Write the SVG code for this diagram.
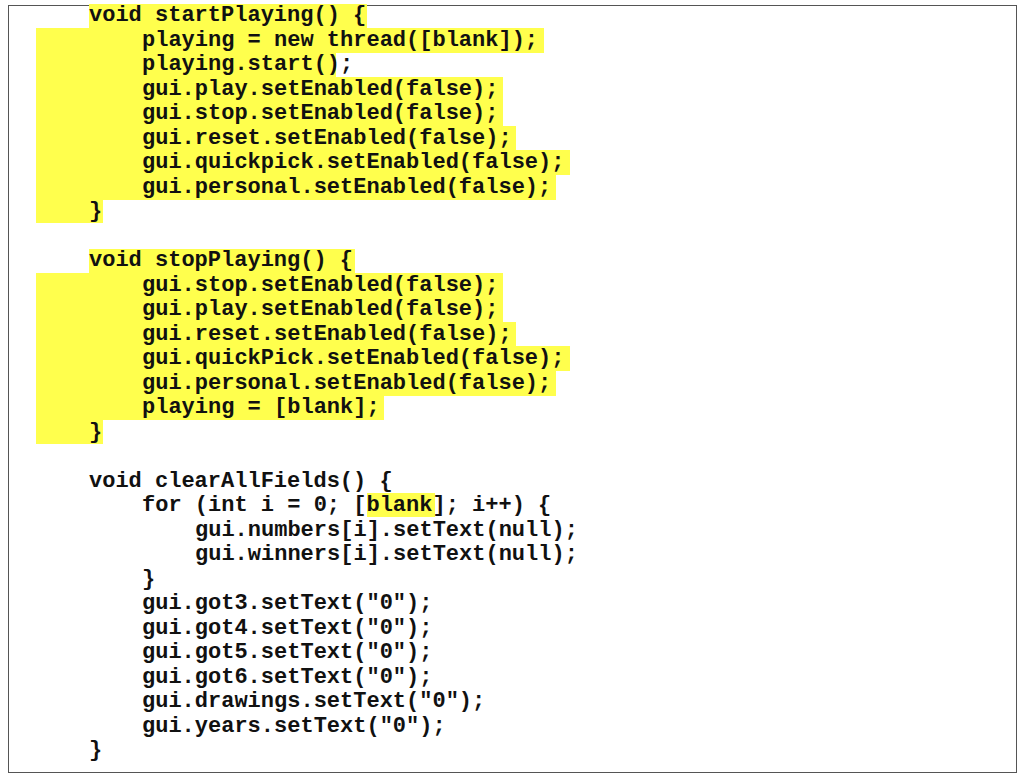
<svg xmlns="http://www.w3.org/2000/svg" width="1024" height="778" viewBox="0 0 1024 778">
<style>
text{font-family:"Liberation Mono","Courier New",monospace;font-size:22px;font-weight:bold;fill:#111;white-space:pre}
.h{fill:#ffff4d}
</style>
<rect x="0" y="0" width="1024" height="778" fill="#fff"/>
<rect x="8.5" y="5.5" width="1008" height="767" fill="none" stroke="#555" stroke-width="1"/>
<g id="highlights">
<rect class="h" x="89" y="4" width="278" height="24"/>
<rect class="h" x="36" y="28" width="508" height="25"/>
<rect class="h" x="36" y="53" width="300" height="25"/>
<rect class="h" x="36" y="77" width="467" height="25"/>
<rect class="h" x="36" y="101" width="467" height="25"/>
<rect class="h" x="36" y="126" width="480" height="25"/>
<rect class="h" x="36" y="150" width="534" height="25"/>
<rect class="h" x="36" y="175" width="520" height="25"/>
<rect class="h" x="36" y="199" width="67" height="24"/>
<rect class="h" x="89" y="249" width="266" height="24"/>
<rect class="h" x="36" y="273" width="467" height="25"/>
<rect class="h" x="36" y="297" width="467" height="25"/>
<rect class="h" x="36" y="322" width="480" height="25"/>
<rect class="h" x="36" y="346" width="534" height="25"/>
<rect class="h" x="36" y="371" width="520" height="25"/>
<rect class="h" x="36" y="395" width="348" height="25"/>
<rect class="h" x="36" y="420" width="67" height="24"/>
<rect class="h" x="367" y="493" width="68" height="24"/>
</g>
<g id="code" xml:space="preserve">
<text x="89" y="21">void startPlaying() {</text>
<text x="142" y="46">playing = new thread([blank]);</text>
<text x="142" y="70">playing.start();</text>
<text x="142" y="95">gui.play.setEnabled(false);</text>
<text x="142" y="119">gui.stop.setEnabled(false);</text>
<text x="142" y="144">gui.reset.setEnabled(false);</text>
<text x="142" y="168">gui.quickpick.setEnabled(false);</text>
<text x="142" y="193">gui.personal.setEnabled(false);</text>
<text x="89" y="217">}</text>
<text x="89" y="266">void stopPlaying() {</text>
<text x="142" y="291">gui.stop.setEnabled(false);</text>
<text x="142" y="315">gui.play.setEnabled(false);</text>
<text x="142" y="340">gui.reset.setEnabled(false);</text>
<text x="142" y="364">gui.quickPick.setEnabled(false);</text>
<text x="142" y="389">gui.personal.setEnabled(false);</text>
<text x="142" y="413">playing = [blank];</text>
<text x="89" y="438">}</text>
<text x="89" y="487">void clearAllFields() {</text>
<text x="142" y="511">for (int i = 0; [blank]; i++) {</text>
<text x="195" y="536">gui.numbers[i].setText(null);</text>
<text x="195" y="560">gui.winners[i].setText(null);</text>
<text x="142" y="585">}</text>
<text x="142" y="609">gui.got3.setText("0");</text>
<text x="142" y="634">gui.got4.setText("0");</text>
<text x="142" y="658">gui.got5.setText("0");</text>
<text x="142" y="683">gui.got6.setText("0");</text>
<text x="142" y="707">gui.drawings.setText("0");</text>
<text x="142" y="732">gui.years.setText("0");</text>
<text x="89" y="756">}</text>
</g>
</svg>
